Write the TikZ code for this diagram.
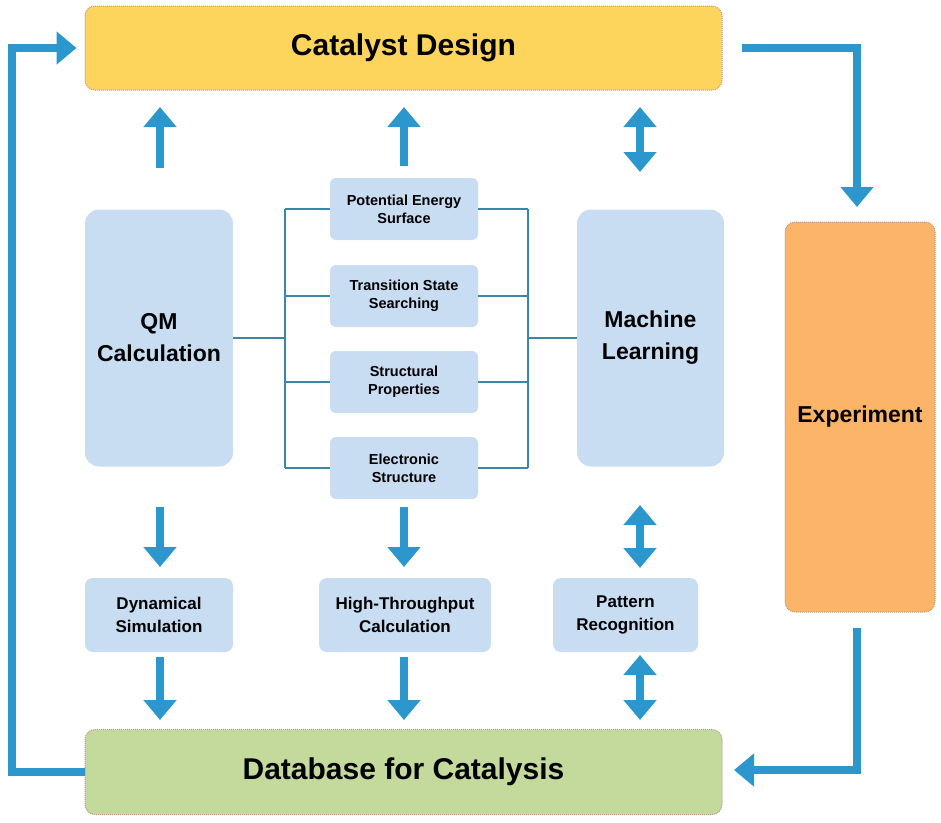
\documentclass[tikz,border=0pt]{standalone}
\usepackage{fontspec}
\setmainfont{Liberation Sans}
\usetikzlibrary{arrows.meta}
\definecolor{arr}{HTML}{2B97CC}
\definecolor{lb}{HTML}{C8DCF2}
\definecolor{yel}{HTML}{FDD45C}
\definecolor{grn}{HTML}{C4D99C}
\definecolor{org}{HTML}{FBB468}
\definecolor{bord}{HTML}{B59A86}
\definecolor{ln}{HTML}{3A86A8}
\begin{document}
\begin{tikzpicture}[x=1pt,y=-1pt,
 big/.style={draw=bord,densely dotted,line width=1pt,rounded corners=10pt,font=\bfseries},
 blue/.style={fill=lb,rounded corners=14pt,font=\bfseries,align=center},
 small/.style={fill=lb,rounded corners=6pt,font=\bfseries\fontsize{14.5}{18}\selectfont,align=center,minimum width=148pt,minimum height=62pt,inner sep=0pt},
 bot/.style={fill=lb,rounded corners=8pt,font=\bfseries\fontsize{17}{23}\selectfont,align=center,minimum height=74pt,inner sep=0pt},
 ar/.style={draw=arr,line width=8pt,line join=miter,-{Triangle[width=32pt,length=20pt]}},
 dar/.style={draw=arr,line width=8pt,{Triangle[width=32pt,length=20pt]}-{Triangle[width=32pt,length=20pt]}},
 lk/.style={draw=ln,line width=1.4pt}]
\useasboundingbox (0,0) rectangle (941,822);
\node[big,fill=yel,minimum width=637pt,minimum height=84pt,font=\bfseries\fontsize{30}{36}\selectfont] (cd) at (403.5,48) {Catalyst Design};
\node[big,fill=grn,minimum width=637pt,minimum height=85pt,font=\bfseries\fontsize{30}{36}\selectfont] (db) at (403.5,772) {Database for Catalysis};
\node[big,fill=org,minimum width=150pt,minimum height=390pt,font=\bfseries\fontsize{23}{28}\selectfont] (ex) at (860,417) {Experiment};
\node[blue,minimum width=148pt,minimum height=257pt,font=\bfseries\fontsize{23}{32}\selectfont] (qm) at (159,338) {QM\\Calculation};
\node[blue,minimum width=147pt,minimum height=257pt,font=\bfseries\fontsize{23}{32}\selectfont] (ml) at (650.5,338) {Machine\\Learning};
\node[small] (s1) at (404,209) {Potential Energy\\Surface};
\node[small] (s2) at (404,296) {Transition State\\Searching};
\node[small] (s3) at (404,382) {Structural\\Properties};
\node[small] (s4) at (404,468) {Electronic\\Structure};
\node[bot,minimum width=148pt] (b1) at (159,615) {Dynamical\\Simulation};
\node[bot,minimum width=172pt] (b2) at (405,615) {High-Throughput\\Calculation};
\node[bot,minimum width=145pt] (b3) at (625.5,615) {Pattern\\Recognition};
\coordinate (jl) at (285,338);
\coordinate (jr) at (528,338);
\draw[lk] (qm.east) -- (jl);
\draw[lk] (ml.west) -- (jr);
\draw[lk] (285,209) -- (285,468);
\draw[lk] (528,209) -- (528,468);
\foreach \s in {s1,s2,s3,s4}{
 \draw[lk] (\s.west) -- (\s.west -| jl);
 \draw[lk] (\s.east) -- (\s.east -| jr);}
\draw[ar] (160,168) -- (160,107);
\draw[ar] (404,166) -- (404,107);
\draw[dar] (640,107) -- (640,172);
\draw[ar] (160,507) -- (160,567);
\draw[ar] (404,507) -- (404,567);
\draw[dar] (640,505) -- (640,568);
\draw[ar] (160,657) -- (160,720);
\draw[ar] (404,657) -- (404,720);
\draw[dar] (640,655) -- (640,720);
\coordinate (l1) at (12,772);
\coordinate (l2) at (12,48);
\draw[ar] (db.west) -- (l1) -- (l2) -- ([xshift=-8pt]cd.west);
\coordinate (r1) at (857,48);
\coordinate (r0) at (742,48);
\draw[ar] (r0) -- (r1) -- (857,207);
\coordinate (r2) at (857,770);
\coordinate (r3) at (857,628);
\draw[ar] (r3) -- (r2) -- (734,770);
\end{tikzpicture}
\end{document}
